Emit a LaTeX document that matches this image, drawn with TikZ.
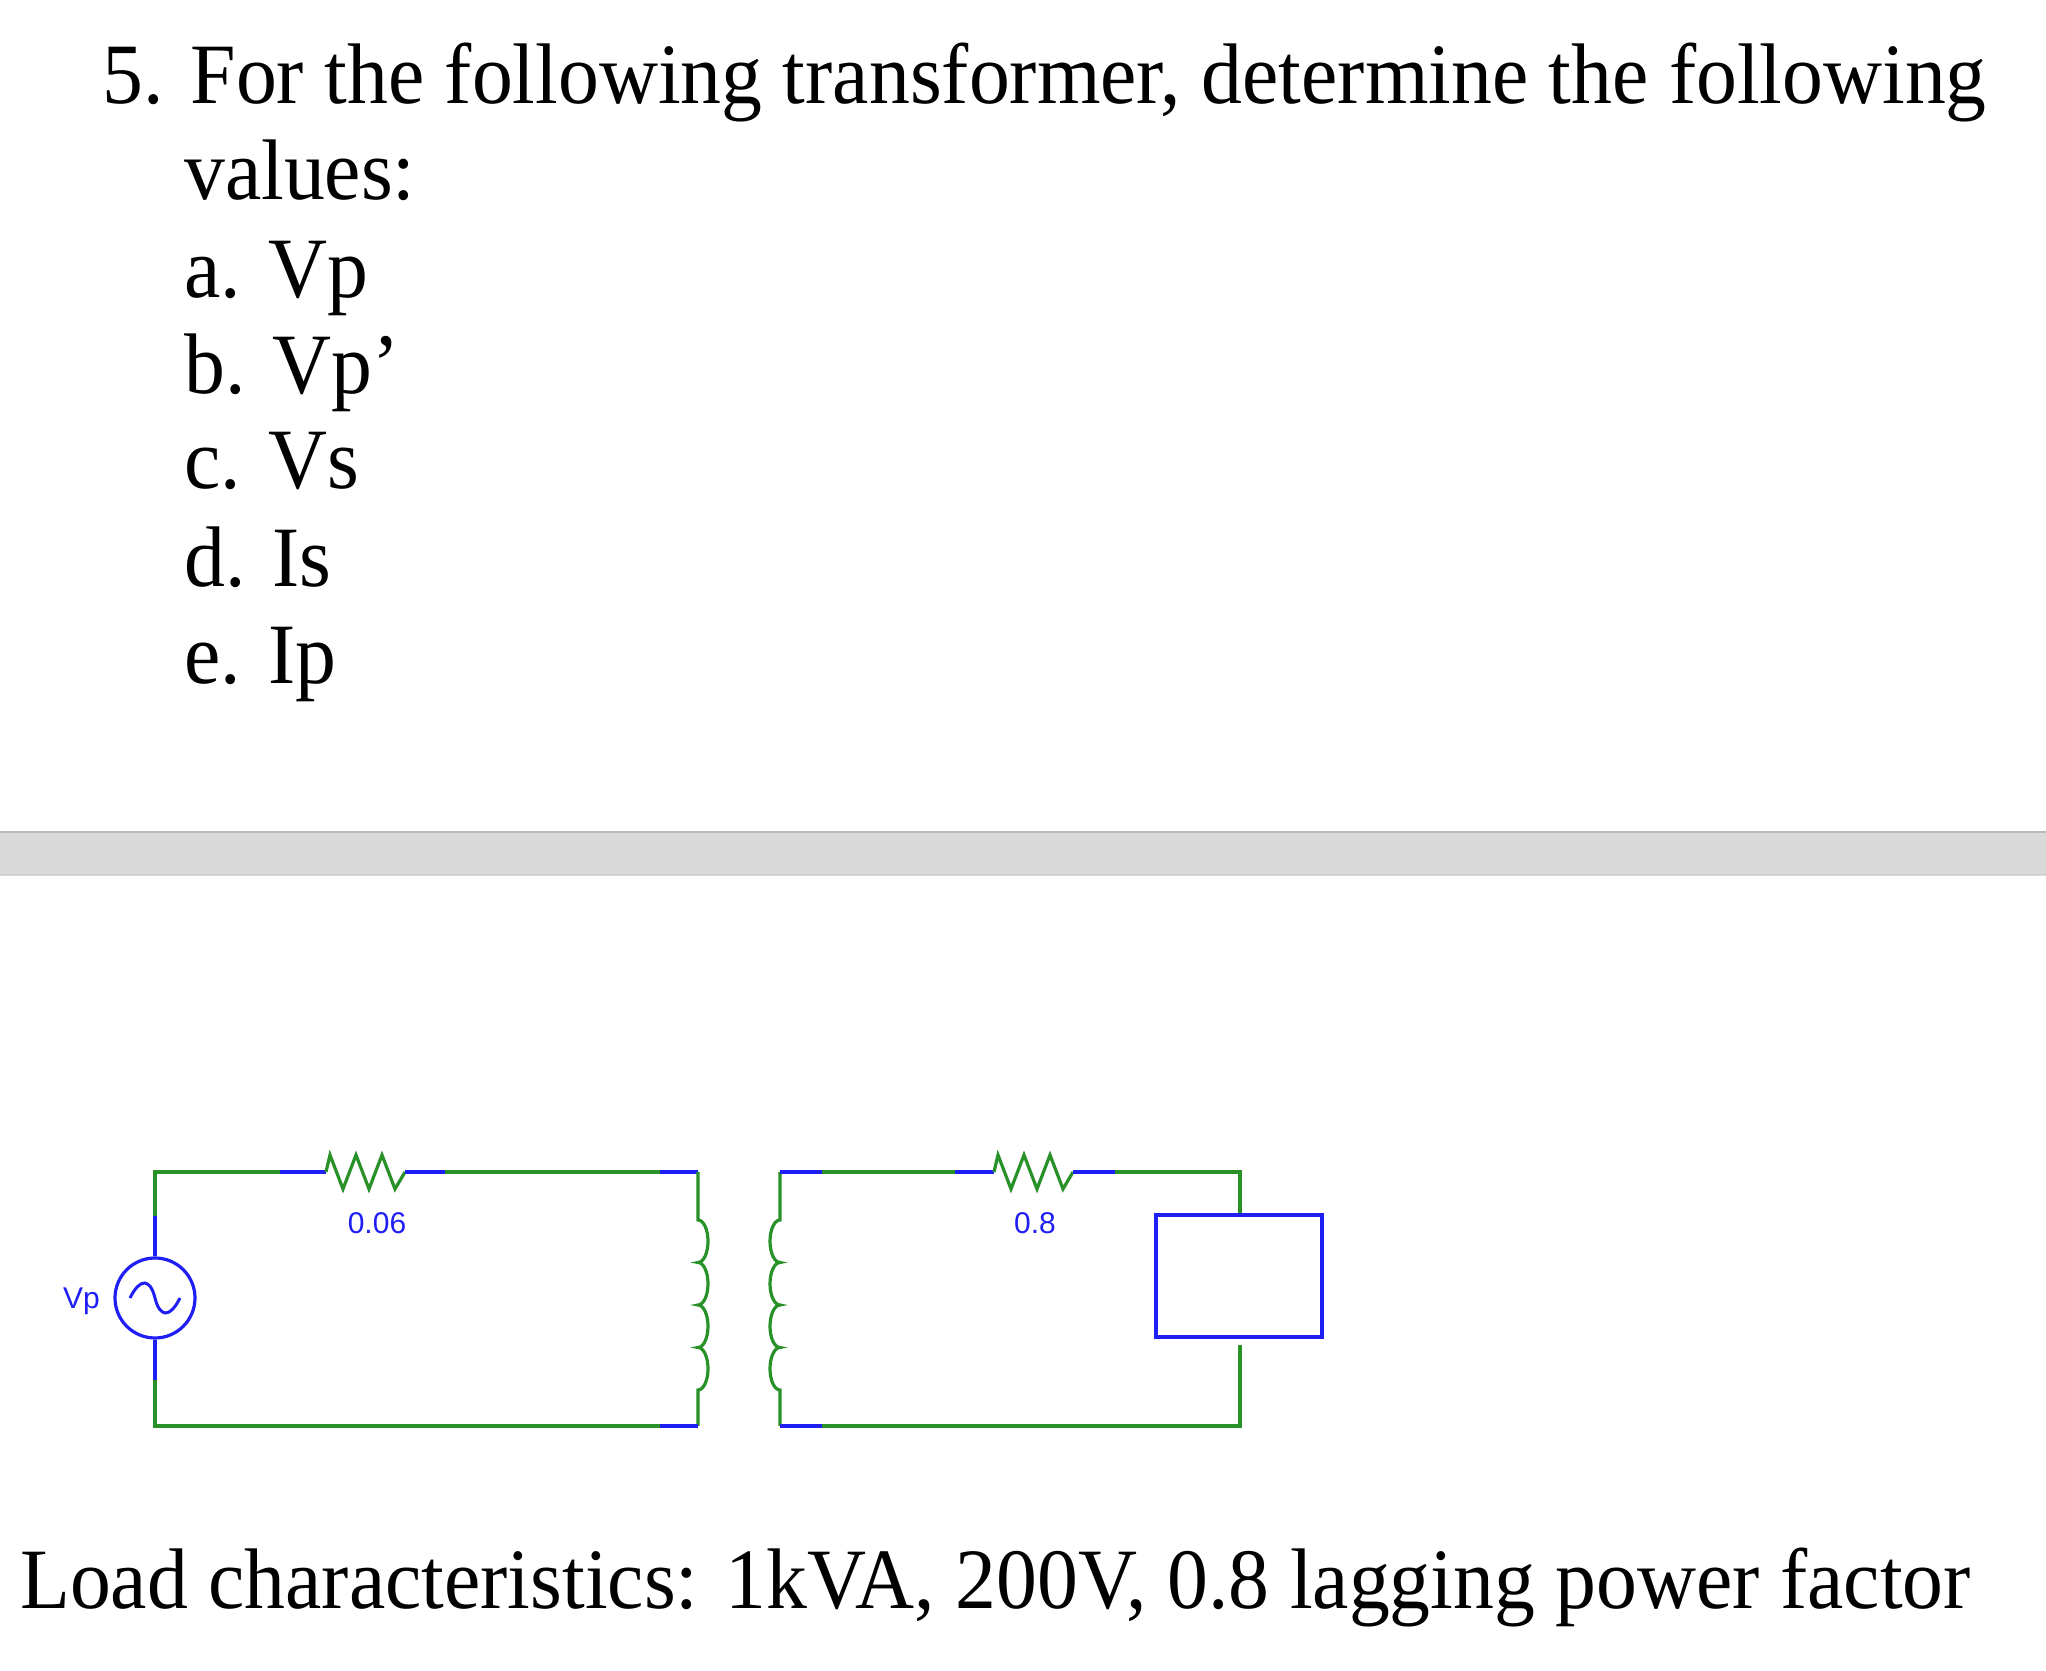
\documentclass[tikz,border=0pt]{standalone}
\usepackage{fontspec}
\setmainfont{Liberation Serif}
\newfontfamily\lblfont{Liberation Sans}
\definecolor{wg}{RGB}{40,145,40}
\definecolor{wb}{RGB}{30,30,245}
\begin{document}
\begin{tikzpicture}[x=1pt,y=1pt,
  txt/.style={anchor=base west,inner sep=0pt,xscale=0.95,font=\fontsize{86}{86}\selectfont},
  lbl/.style={font=\lblfont\fontsize{30}{30}\selectfont,text=wb,inner sep=0pt},
  gw/.style={draw=wg,line width=3.2pt},
  bw/.style={draw=wb,line width=3.2pt}]
\useasboundingbox (0,0) rectangle (2046,1671);
\fill[white] (0,0) rectangle (2046,1671);
% text
\node[txt] (t1) at (102,1567) {5. For the following transformer, determine the following};
\node[txt] (t2) at (184,1471) {values:};
\node[txt] (t3) at (184,1373) {a. Vp};
\node[txt] (t4) at (184,1277) {b. Vp’};
\node[txt] (t5) at (184,1182) {c. Vs};
\node[txt] (t6) at (184,1084) {d. Is};
\node[txt] (t7) at (184,987) {e. Ip};
\node[txt] (t8) at (20,62) {Load characteristics: 1kVA, 200V, 0.8 lagging power factor};
% grey bar
\fill[gray!30] (0,795) rectangle (2046,840);
\draw[gray!55,line width=2pt] (0,839) -- (2046,839);
\draw[gray!40,line width=1pt] (0,796) -- (2046,796);
% primary loop
\coordinate (p1) at (155,499);
\coordinate (p2) at (155,245);
\coordinate (r1a) at (326,499);
\coordinate (r1b) at (405,499);
\coordinate (c1t) at (698,499);
\coordinate (c1b) at (698,245);
\node[circle,draw=wb,line width=3.2pt,minimum size=80pt,inner sep=0pt] (src) at (155,373) {};
\draw[wb,line width=3pt] (130,373) .. controls (140,393) and (150,393) .. (155,373) .. controls (160,353) and (170,353) .. (180,373);
\node[lbl,anchor=east] (vp) at (100,370) {Vp};
\draw[gw] (src.north) ++(0,40) -- (p1) -- (280,499);
\draw[bw] (src.north) -- ++(0,40);
\draw[bw] (280,499) -- (r1a);
\draw[gw] (r1a) -- ++(4,17) -- ++(13,-34) -- ++(13,34) -- ++(13,-34) -- ++(13,34) -- ++(13,-34) -- (r1b);
\draw[bw] (r1b) -- (445,499);
\draw[gw] (445,499) -- (660,499);
\draw[bw] (660,499) -- (c1t);
\node[lbl] (l1) at (377,448) {0.06};
\draw[gw] (c1t) -- (698,451) arc(90:-90:10 and 21.25) arc(90:-90:10 and 21.25) arc(90:-90:10 and 21.25) arc(90:-90:10 and 21.25) -- (c1b);
\draw[gw] (src.south) ++(0,-40) -- (p2) -- (660,245);
\draw[bw] (src.south) -- ++(0,-40);
\draw[bw] (660,245) -- (c1b);
% secondary loop
\coordinate (s1t) at (780,499);
\coordinate (s1b) at (780,245);
\coordinate (r2a) at (994,499);
\coordinate (r2b) at (1073,499);
\coordinate (q1) at (1240,499);
\coordinate (q2) at (1240,245);
\node[draw=wb,line width=3.2pt,minimum width=166pt,minimum height=122pt,inner sep=0pt] (load) at (1239,395) {};
\draw[gw] (s1t) -- (780,451) arc(90:270:10 and 21.25) arc(90:270:10 and 21.25) arc(90:270:10 and 21.25) arc(90:270:10 and 21.25) -- (s1b);
\draw[bw] (s1t) -- (822,499);
\draw[gw] (822,499) -- (955,499);
\draw[bw] (955,499) -- (r2a);
\draw[gw] (r2a) -- ++(4,17) -- ++(13,-34) -- ++(13,34) -- ++(13,-34) -- ++(13,34) -- ++(13,-34) -- (r2b);
\draw[bw] (r2b) -- (1115,499);
\draw[gw] (1115,499) -- (q1) -- (load.north -| q1);
\node[lbl] (l2) at (1035,448) {0.8};
\draw[gw] (load.south -| q2) ++(0,-6) -- (q2) -- (822,245);
\draw[bw] (822,245) -- (s1b);
\end{tikzpicture}
\end{document}
